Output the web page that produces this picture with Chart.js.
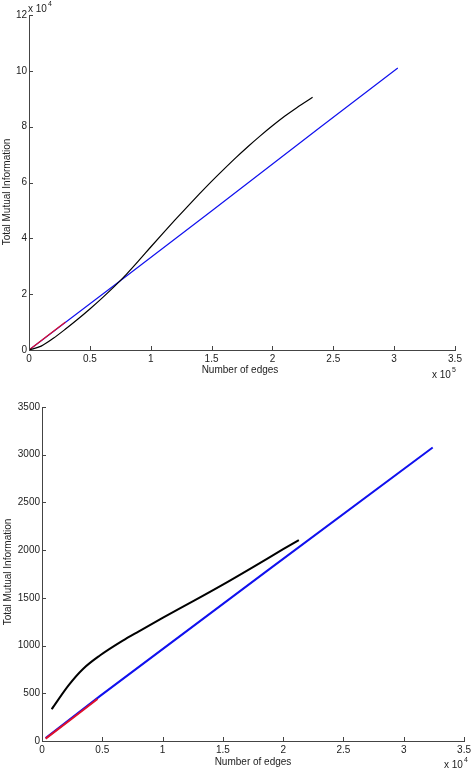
<!DOCTYPE html>
<html>
<head>
<meta charset="utf-8">
<script src="https://cdn.jsdelivr.net/npm/chart.js@4/dist/chart.umd.min.js"></script>
<style>
  html, body { margin: 0; padding: 0; background: #fff; }
  .panel { position: absolute; left: 0; width: 474px; }
</style>
</head>
<body>
<div class="panel" style="top:0;height:385px"><canvas id="topChart" width="474" height="385"></canvas></div>
<div class="panel" style="top:385px;height:384px"><canvas id="bottomChart" width="474" height="384"></canvas></div>
<script>
// top panel: x in units of 1e5 edges, y in units of 1e4
const topBlack = [
  [0, 0], [0.1, 0.14], [0.2, 0.42], [0.3, 0.75], [0.4, 1.1], [0.5, 1.47],
  [0.6, 1.86], [0.7, 2.27], [0.8, 2.71], [0.9, 3.19], [1.0, 3.69], [1.1, 4.18],
  [1.2, 4.66], [1.3, 5.13], [1.4, 5.59], [1.5, 6.04], [1.6, 6.47], [1.7, 6.89],
  [1.8, 7.29], [1.9, 7.67], [2.0, 8.03], [2.1, 8.37], [2.2, 8.68], [2.33, 9.05]
];
const topBlue = [[0, 0], [0.75, 2.48], [1.5, 4.98], [2.39, 7.97], [3.03, 10.1]];
const topRed = [[0, 0], [0.15, 0.5], [0.3, 1.0]];
const topXTicks = [0, 0.5, 1, 1.5, 2, 2.5, 3, 3.5];
const topYTicks = [0, 2, 4, 6, 8, 10, 12];

// bottom panel: x in units of 1e4 edges, y plain
const bottomBlack = [
  [0.08, 333], [0.22, 583], [0.34, 755], [0.48, 896], [0.67, 1052], [0.8, 1147],
  [1.0, 1290], [1.25, 1462], [1.5, 1638], [1.75, 1822], [2.0, 2010], [2.13, 2105]
];
const bottomBlue = [[0.03, 30], [0.48, 470], [1.88, 1796], [3.24, 3075]];
const bottomRed = [[0.03, 25], [0.25, 235], [0.46, 440]];
const bottomXTicks = [0, 0.5, 1, 1.5, 2, 2.5, 3, 3.5];
const bottomYTicks = [0, 500, 1000, 1500, 2000, 2500, 3000, 3500];

const FONT = 'Liberation Sans, Arial, sans-serif';
const AXIS = '#444';

const toXY = arr => arr.map(p => ({ x: p[0], y: p[1] }));

// MATLAB style: ticks pointing into the plot, plus labels and exponents
const decorPlugin = {
  id: 'decor',
  afterDraw(chart, args, opts) {
    const ctx = chart.ctx;
    const xs = chart.scales.x, ys = chart.scales.y;
    const a = chart.chartArea;
    ctx.save();
    ctx.strokeStyle = AXIS;
    ctx.lineWidth = 1;
    ctx.beginPath();
    opts.xTicks.forEach(v => {
      const px = Math.round(xs.getPixelForValue(v)) + 0.5;
      ctx.moveTo(px, a.bottom);
      ctx.lineTo(px, a.bottom - 4);
    });
    opts.yTicks.forEach(v => {
      const py = Math.round(ys.getPixelForValue(v)) + 0.5;
      ctx.moveTo(a.left, py);
      ctx.lineTo(a.left + 4, py);
    });
    ctx.stroke();

    ctx.fillStyle = '#222';
    ctx.font = '10px ' + FONT;
    ctx.textAlign = 'center';
    ctx.textBaseline = 'middle';
    ctx.fillText('Number of edges', opts.xTitle[0], opts.xTitle[1]);

    ctx.save();
    ctx.translate(opts.yTitle[0], opts.yTitle[1]);
    ctx.rotate(-Math.PI / 2);
    ctx.fillText('Total Mutual Information', 0, 0);
    ctx.restore();

    ctx.textAlign = 'left';
    ctx.textBaseline = 'alphabetic';
    opts.exps.forEach(e => {
      ctx.font = '10px ' + FONT;
      ctx.fillText('x 10', e.x, e.y);
      const w = ctx.measureText('x 10').width;
      ctx.font = '7px ' + FONT;
      ctx.fillText(e.p, e.x + w + 1, e.y - 6);
    });
    ctx.restore();
  }
};

function makeChart(id, cfg) {
  return new Chart(document.getElementById(id), {
    type: 'line',
    data: {
      // first dataset is drawn on top
      datasets: [
        { data: toXY(cfg.black), borderColor: '#000000', borderWidth: cfg.lw, cubicInterpolationMode: 'monotone' },
        { data: toXY(cfg.red), borderColor: '#e0102a', borderWidth: cfg.lw },
        { data: toXY(cfg.blue), borderColor: '#1010ee', borderWidth: cfg.lw }
      ]
    },
    options: {
      responsive: false,
      animation: false,
      layout: { padding: cfg.pad },
      elements: {
        point: { radius: 0 },
        line: { fill: false, tension: 0 }
      },
      plugins: {
        legend: { display: false },
        tooltip: { enabled: false },
        decor: cfg.decor
      },
      scales: {
        x: {
          type: 'linear', min: 0, max: 3.5,
          afterFit: s => { s.height = cfg.xh; },
          afterBuildTicks: s => { s.ticks = cfg.decor.xTicks.map(v => ({ value: v })); },
          grid: { display: false, drawTicks: false, tickLength: 0 },
          border: { display: true, color: AXIS, width: 1 },
          ticks: { color: '#222', font: { family: FONT, size: 10 }, padding: 3, maxRotation: 0, autoSkip: false,
                   callback: v => String(v) }
        },
        y: {
          type: 'linear', min: 0, max: cfg.ymax,
          afterFit: s => { s.width = cfg.yw; },
          afterBuildTicks: s => { s.ticks = cfg.decor.yTicks.map(v => ({ value: v })); },
          grid: { display: false, drawTicks: false, tickLength: 0 },
          border: { display: true, color: AXIS, width: 1 },
          ticks: { color: '#222', font: { family: FONT, size: 10 }, padding: 2, autoSkip: false,
                   callback: v => String(v) }
        }
      }
    },
    plugins: [decorPlugin]
  });
}

makeChart('topChart', {
  black: topBlack, blue: topBlue, red: topRed, lw: 1.2, ymax: 12,
  pad: { left: 0, right: 19, top: 15, bottom: 0 }, xh: 35, yw: 29,
  decor: {
    xTicks: topXTicks, yTicks: topYTicks,
    xTitle: [240, 370], yTitle: [7, 192],
    exps: [{ x: 432, y: 378, p: '5' }, { x: 28, y: 12, p: '4' }]
  }
});

makeChart('bottomChart', {
  black: bottomBlack, blue: bottomBlue, red: bottomRed, lw: 2, ymax: 3500,
  pad: { left: 0, right: 8, top: 22, bottom: 0 }, xh: 28, yw: 42,
  decor: {
    xTicks: bottomXTicks, yTicks: bottomYTicks,
    xTitle: [253, 377], yTitle: [8, 187],
    exps: [{ x: 444, y: 383, p: '4' }]
  }
});
</script>
</body>
</html>
